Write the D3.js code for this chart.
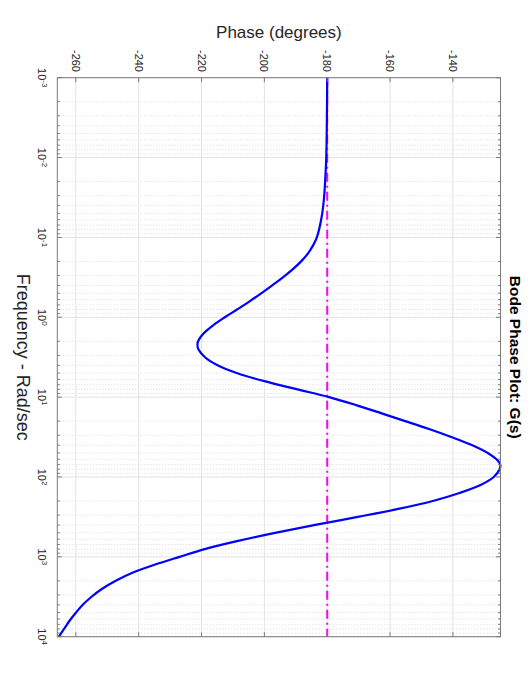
<!DOCTYPE html>
<html><head><meta charset="utf-8">
<script src="https://cdn.jsdelivr.net/npm/d3@7"></script>
<style>
body{margin:0;background:#fff}
svg{display:block}
text{font-family:"Liberation Sans",Arial,Helvetica,sans-serif}
</style>
</head><body>
<svg id="c" width="531" height="696"></svg>
<script>
// ---- data (log10 of frequency in rad/s, phase in degrees) ----
const freqExp = [-3, -2.5, -2, -1.75, -1.5, -1.25, -1.0, -0.9, -0.8, -0.7, -0.6, -0.5, -0.4, -0.3, -0.2, -0.1, 0.0, 0.1, 0.2, 0.3, 0.35, 0.4, 0.5, 0.6, 0.7, 0.8, 0.9, 1.0, 1.1, 1.2, 1.3, 1.4, 1.5, 1.6, 1.7, 1.8, 1.85, 1.9, 2.0, 2.1, 2.2, 2.3, 2.4, 2.5, 2.6, 2.7, 2.8, 2.9, 3.0, 3.1, 3.2, 3.3, 3.4, 3.5, 3.6, 3.7, 3.8, 3.9, 4.0];
const phaseDeg = [-180.0, -180.1, -180.3, -180.6, -181.0, -181.8, -183.3, -184.5, -186.1, -188.3, -191.0, -194.1, -197.5, -201.0, -204.7, -208.6, -212.6, -216.3, -219.3, -221.1, -221.3, -221.0, -218.9, -214.9, -208.6, -200.0, -189.8, -179.4, -170.8, -162.9, -155.2, -147.6, -140.5, -134.0, -128.9, -125.6, -124.9, -125.1, -127.0, -131.2, -137.9, -146.4, -157.4, -170.3, -183.8, -196.6, -208.4, -218.7, -227.0, -235.0, -242.0, -247.3, -251.6, -255.0, -257.8, -260.0, -262.0, -263.7, -265.4];
const phaseTicks = [-260, -240, -220, -200, -180, -160, -140];
const decadeExps = [-3, -2, -1, 0, 1, 2, 3, 4];
const refPhase = -180;
const titleText = "Bode Phase Plot: G(s)";
const freqLabel = "Frequency - Rad/sec";
const phaseLabel = "Phase (degrees)";

// ---- layout ----
const L = 57.3, R = 500.5, T = 77.7, B = 636.7;
const svg = d3.select("#c");
const y = d3.scaleLog().domain([1e-3, 1e4]).range([T, B]);          // frequency runs downward
const x = d3.scaleLinear().domain([-265.9, -124.85]).range([L, R]);  // phase runs rightward

const majorF = decadeExps.map(e => Math.pow(10, e));
const minorF = [];
decadeExps.slice(0, -1).forEach(e => { for (let m = 2; m <= 9; m++) minorF.push(m * Math.pow(10, e)); });

// grid
const g = svg.append("g");
g.selectAll(".mg").data(minorF).join("line")
  .attr("x1", L).attr("x2", R).attr("y1", d => y(d)).attr("y2", d => y(d))
  .attr("stroke", "#cfcfcf").attr("stroke-width", 0.8).attr("stroke-dasharray", "1,2");
g.selectAll(".Mg").data(majorF).join("line")
  .attr("x1", L).attr("x2", R).attr("y1", d => y(d)).attr("y2", d => y(d))
  .attr("stroke", "#e2e2e2").attr("stroke-width", 1);
g.selectAll(".pg").data(phaseTicks).join("line")
  .attr("y1", T).attr("y2", B).attr("x1", d => x(d)).attr("x2", d => x(d))
  .attr("stroke", "#e2e2e2").attr("stroke-width", 1);

// reference line
svg.append("line")
  .attr("x1", x(refPhase)).attr("x2", x(refPhase)).attr("y1", y(1e-3)).attr("y2", y(1e4))
  .attr("stroke", "#ff00ff").attr("stroke-width", 2).attr("stroke-dasharray", "9,4,2,4");

// phase curve
const pts = freqExp.map((e, i) => [Math.pow(10, e), phaseDeg[i]]);
svg.append("path").datum(pts)
  .attr("d", d3.line().x(d => x(d[1])).y(d => y(d[0])).curve(d3.curveCatmullRom.alpha(0.5)))
  .attr("fill", "none").attr("stroke", "#0000ff").attr("stroke-width", 2.2)
  .attr("stroke-linejoin", "round");

// frame
const axC = "#7a7a7a";
svg.append("rect").attr("x", L).attr("y", T).attr("width", R - L).attr("height", B - T)
  .attr("fill", "none").attr("stroke", axC).attr("stroke-width", 1);

// ticks
const tk = svg.append("g").attr("stroke", axC).attr("stroke-width", 1);
phaseTicks.forEach(p => {
  tk.append("line").attr("x1", x(p)).attr("x2", x(p)).attr("y1", T).attr("y2", T + 4.5);
  tk.append("line").attr("x1", x(p)).attr("x2", x(p)).attr("y1", B).attr("y2", B - 4.5);
});
majorF.forEach(f => {
  tk.append("line").attr("x1", L).attr("x2", L + 4.5).attr("y1", y(f)).attr("y2", y(f));
  tk.append("line").attr("x1", R).attr("x2", R - 4.5).attr("y1", y(f)).attr("y2", y(f));
});
minorF.forEach(f => {
  tk.append("line").attr("x1", L).attr("x2", L + 2.5).attr("y1", y(f)).attr("y2", y(f));
  tk.append("line").attr("x1", R).attr("x2", R - 2.5).attr("y1", y(f)).attr("y2", y(f));
});

const txtC = "#262626";
// phase tick labels (rotated)
phaseTicks.forEach(p => {
  svg.append("text")
    .attr("transform", `translate(${x(p) - 4},72) rotate(90)`)
    .attr("text-anchor", "end").attr("font-size", 11).attr("fill", txtC)
    .text(p);
});
// frequency tick labels (rotated, with superscripts)
decadeExps.forEach(e => {
  const t = svg.append("text")
    .attr("transform", `translate(37.5,${y(Math.pow(10, e))}) rotate(90)`)
    .attr("text-anchor", "middle").attr("font-size", 11).attr("fill", txtC);
  t.append("tspan").text("10");
  t.append("tspan").attr("dy", -4.5).attr("font-size", 8).text(e);
});

// axis labels and title
svg.append("text").attr("x", (L + R) / 2).attr("y", 37.5).attr("text-anchor", "middle")
  .attr("font-size", 17).attr("fill", txtC).text(phaseLabel);
svg.append("text").attr("transform", `translate(17,${(T + B) / 2}) rotate(90)`)
  .attr("text-anchor", "middle").attr("font-size", 18).attr("fill", txtC).text(freqLabel);
svg.append("text").attr("transform", `translate(510,${(T + B) / 2}) rotate(90)`)
  .attr("text-anchor", "middle").attr("font-size", 15.5).attr("font-weight", "bold").attr("fill", "#000").text(titleText);
</script>
</body></html>
